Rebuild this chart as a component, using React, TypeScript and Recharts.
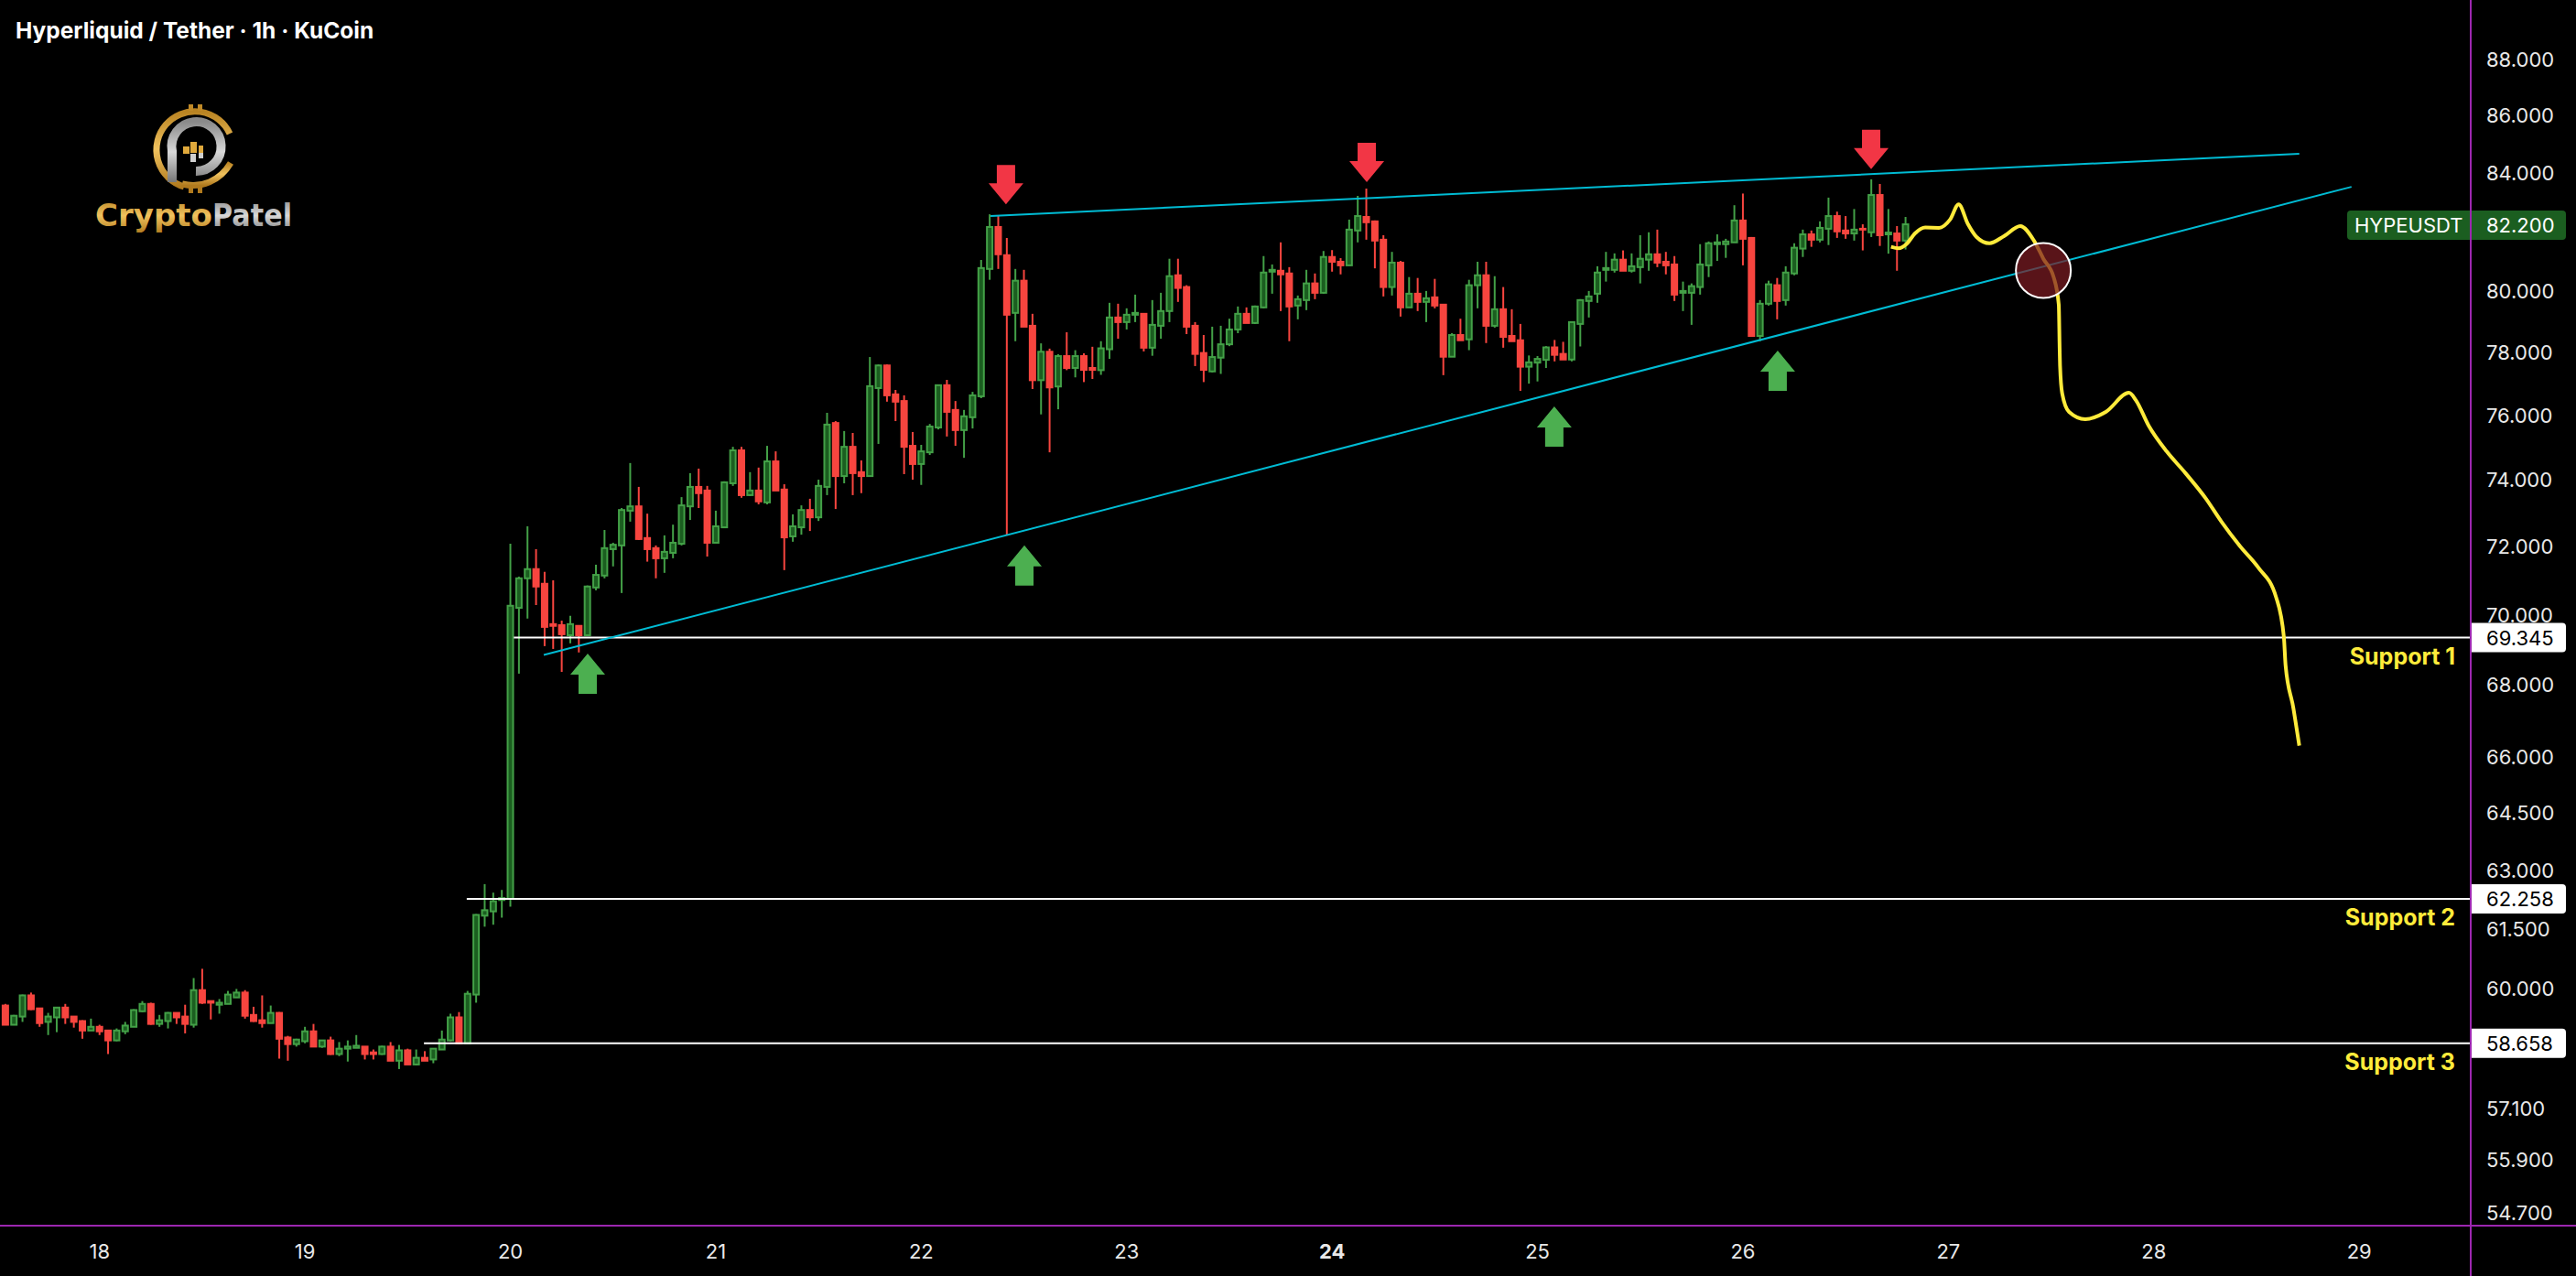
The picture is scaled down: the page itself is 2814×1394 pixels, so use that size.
import React from "react";
import { ComposedChart, Bar, Line, XAxis, YAxis, ReferenceLine, ReferenceDot } from "recharts";

const opens = [
59.58,59.11,59.31,59.83,59.51,59.18,59.29,59.53,59.31,59.2,
58.97,59.06,58.97,58.73,58.95,59.06,59.44,59.62,59.13,59.2,
59.4,59.31,59.11,59.96,59.69,59.6,59.62,59.78,59.9,59.35,
59.22,59.15,59.4,58.8,58.64,58.71,58.95,58.58,58.73,58.4,
58.53,58.55,58.58,58.44,58.4,58.58,58.24,58.49,58.15,58.31,
58.27,58.51,58.73,59.29,58.66,59.85,61.83,61.94,62.23,62.26,
70.2,71.06,71.33,70.9,69.73,69.7,69.41,69.68,69.41,70.79,
71.14,71.92,72.03,73.07,73.2,72.25,71.95,71.65,71.81,72.08,
73.2,73.79,73.68,72.11,72.57,73.9,74.91,73.54,73.68,73.32,
74.57,73.71,72.3,72.57,73.09,72.87,73.79,75.76,74.12,75.02,
74.24,74.12,76.86,77.58,76.66,76.45,75.05,74.49,74.85,75.62,
76.95,76.17,75.54,75.94,76.6,80.73,82.14,81.19,79.28,80.34,
78.86,77.11,78.02,76.91,77.88,77.5,77.88,77.5,77.43,78.1,
79.13,78.98,79.22,79.25,78.15,78.86,79.34,80.52,80.13,78.86,
77.98,77.39,77.83,78.26,78.74,79.25,78.95,79.46,80.64,80.67,
80.58,79.52,79.7,80.25,79.94,81.13,80.97,80.85,82.02,82.48,
82.33,81.71,80.13,80.94,79.46,79.91,79.64,79.79,79.55,77.86,
78.56,78.42,80.19,80.52,78.86,79.4,78.53,78.39,77.54,77.67,
77.76,78.16,77.95,77.77,78.92,79.67,79.91,80.7,80.7,81.04,
80.67,80.79,81.04,81.22,80.97,80.88,79.94,79.94,80.13,80.85,
81.56,81.56,81.62,82.36,81.77,78.53,79.58,80.19,79.7,80.58,
81.41,81.89,81.71,82.08,82.51,82.02,81.92,82.08,81.96,83.23,
81.89,81.92,81.68];

const highs = [
59.62,59.35,59.85,59.9,59.51,59.4,59.53,59.62,59.31,59.22,
59.26,59.11,58.97,59.02,59.18,59.49,59.69,59.65,59.35,59.42,
59.4,59.6,60.26,60.49,59.69,59.74,59.94,59.99,59.96,59.55,
59.83,59.58,59.42,58.84,58.77,59.06,59.13,58.73,58.82,58.69,
58.73,58.86,58.58,58.51,58.6,58.69,58.62,58.53,58.51,58.47,
58.53,58.97,59.38,59.42,59.94,61.87,62.64,62.42,62.49,72.08,
71.11,72.6,71.92,71.25,71.0,69.83,69.97,69.7,70.85,71.46,
72.49,72.11,73.15,74.52,73.79,72.98,72.03,72.33,72.65,73.48,
74.21,74.35,73.82,73.07,73.96,75.02,75.02,74.24,74.38,75.05,
74.88,73.87,72.96,73.23,73.43,74.01,76.08,75.82,75.51,75.45,
74.6,77.85,77.61,77.61,76.8,76.63,75.48,75.08,75.73,76.97,
77.12,76.45,76.17,76.74,81.03,82.57,82.54,81.77,80.73,80.7,
79.25,78.29,78.12,77.94,78.65,78.07,77.97,78.18,78.36,79.61,
79.58,79.43,79.88,79.25,79.7,79.94,81.07,81.07,80.19,78.98,
78.56,78.83,78.86,79.09,79.49,79.46,79.52,81.16,80.88,81.62,
80.79,79.85,80.7,80.58,81.33,81.36,81.09,82.39,83.2,83.45,
82.36,81.86,81.3,81.0,80.46,80.43,80.0,80.4,79.55,78.62,
79.09,80.37,80.97,80.97,80.49,80.13,79.4,78.92,77.9,77.88,
78.2,78.4,78.34,78.98,79.73,80.0,80.82,81.3,81.25,81.35,
81.25,81.86,81.96,82.05,81.3,81.16,80.31,80.25,81.56,81.65,
81.89,81.74,82.88,83.28,81.8,79.7,80.34,80.43,80.82,81.59,
82.05,82.02,82.33,83.14,82.66,82.51,82.75,82.23,83.77,83.61,
82.75,82.17,82.48];

const lows = [
59.11,59.11,59.18,59.47,59.06,58.86,58.93,59.13,59.04,58.77,
58.97,58.86,58.4,58.71,58.88,59.06,59.42,59.11,59.06,59.02,
59.13,58.9,59.04,59.62,59.24,59.38,59.62,59.78,59.26,59.18,
59.04,59.15,58.29,58.24,58.58,58.66,58.58,58.55,58.38,58.35,
58.22,58.55,58.27,58.27,58.38,58.24,58.04,58.15,58.13,58.24,
58.18,58.51,58.71,58.64,58.66,59.65,61.55,61.6,61.78,62.06,
68.32,69.89,70.28,69.1,69.02,68.37,69.18,68.92,69.41,70.71,
71.06,71.41,70.63,72.74,72.19,71.55,71.06,71.22,71.65,72.03,
72.79,73.15,71.7,72.11,72.57,73.82,73.46,73.51,73.26,73.26,
73.68,71.3,72.14,72.35,72.46,72.76,73.54,73.12,73.9,73.54,
73.6,74.1,75.11,76.43,75.82,74.18,74.01,73.85,74.77,75.56,
75.34,75.05,74.68,75.59,76.54,80.37,80.73,72.33,78.36,78.83,
76.83,76.03,74.85,76.19,77.43,77.2,77.05,77.15,77.28,77.79,
78.44,78.74,78.98,78.03,77.89,78.44,78.98,79.64,78.59,77.56,
77.05,77.36,77.31,78.2,78.62,78.95,78.92,79.43,79.91,79.34,
78.36,79.07,79.37,79.73,79.91,80.64,80.55,80.85,81.62,81.71,
80.75,79.82,79.85,79.16,79.46,79.34,78.98,79.43,77.27,77.86,
78.39,78.07,79.43,78.3,78.8,78.15,78.36,76.77,77.0,77.07,
77.5,77.71,77.77,77.71,78.19,79.13,79.61,80.31,80.61,80.67,
80.61,80.25,80.67,80.79,80.55,79.67,79.34,78.89,79.88,80.46,
81.0,81.1,81.62,80.85,78.5,78.36,79.52,79.07,79.52,80.52,
81.13,81.47,81.62,81.53,81.77,81.74,81.68,81.35,81.8,81.5,
81.24,80.67,81.38];

const closes = [
59.11,59.33,59.83,59.49,59.15,59.31,59.53,59.29,59.18,58.97,
59.06,58.95,58.73,58.97,59.09,59.47,59.62,59.13,59.22,59.4,
59.29,59.13,59.96,59.65,59.65,59.65,59.85,59.9,59.33,59.2,
59.15,59.4,58.77,58.64,58.75,58.95,58.58,58.73,58.4,58.53,
58.58,58.6,58.4,58.4,58.58,58.24,58.49,58.15,58.31,58.24,
58.53,58.75,59.29,58.66,59.87,61.85,61.97,62.2,62.28,70.26,
71.06,71.33,70.82,69.65,69.68,69.44,69.73,69.41,70.82,71.16,
71.95,72.05,73.09,73.2,72.22,71.92,71.65,71.84,72.11,73.23,
73.79,73.6,72.11,72.6,73.93,74.91,73.54,73.68,73.35,74.57,
73.68,72.27,72.6,73.09,72.87,73.82,75.71,74.12,75.02,74.21,
74.12,76.92,77.58,76.63,76.43,75.02,74.49,74.88,75.65,76.95,
76.11,75.54,75.97,76.63,80.76,82.14,81.22,79.22,80.34,78.83,
77.11,78.02,76.88,77.88,77.5,77.88,77.44,77.44,78.13,79.13,
78.98,79.22,79.28,78.15,78.89,79.34,80.49,80.1,78.83,77.95,
77.44,77.85,78.26,78.74,79.25,78.95,79.49,80.61,80.7,80.55,
79.49,79.73,80.25,79.94,81.13,80.97,80.85,82.05,82.51,82.3,
81.68,80.13,80.94,79.46,79.91,79.64,79.76,79.52,77.86,78.56,
78.39,80.19,80.52,78.86,79.4,78.5,78.36,77.54,77.68,77.79,
78.16,77.92,77.77,78.98,79.7,79.82,80.61,80.76,81.04,80.67,
80.82,81.07,81.22,80.94,80.85,79.88,80.0,80.16,80.88,81.59,
81.62,81.65,82.36,81.74,78.53,79.58,80.22,79.67,80.61,81.44,
81.89,81.71,82.11,82.51,81.99,81.92,82.05,82.05,83.23,81.86,
81.95,81.68,82.23];

const dayTicks = [11, 35, 59, 83, 107, 131, 155, 179, 203, 227, 251, 275];
const dayLabels = ["18", "19", "20", "21", "22", "23", "24", "25", "26", "27", "28", "29"];
const priceTicks = [88, 86, 84, 80, 78, 76, 74, 72, 70, 68, 66, 64.5, 63, 61.5, 60, 57.1, 55.9, 54.7];

const forecastIdx = [220.3,221.2,222.1,223.1,224.3,225.9,227.2,228.2,229.3,230.3,231.8,233.5,235.4,237.0,238.1,239.3,239.9,240.0,240.05,240.3,241.1,243.0,245.4,248.1,248.9,250.4,252.5,254.7,257.1,258.9,261.1,263.2,265.3,266.2,266.4,267.3,268.0];
const forecastPrice = [81.47,81.42,81.56,81.92,82.12,82.11,82.39,82.91,82.23,81.8,81.59,81.83,82.17,81.68,81.07,80.46,79.55,78.15,77.57,76.69,76.11,75.88,76.11,76.71,76.48,75.68,74.88,74.21,73.43,72.74,72.0,71.38,70.5,69.36,68.55,67.37,66.32];

const upperTrend = [{ x: 115.1, y: 82.51 }, { x: 268.0, y: 84.66 }];
const lowerTrend = [{ x: 62.9, y: 68.85 }, { x: 274.1, y: 83.51 }];

const supportPrices = [69.345, 62.258, 58.658];
const supportStarts = [59.4, 53.9, 48.9];
const supportNames = ["Support 1", "Support 2", "Support 3"];

const downArrowIdx = [116.9, 159.05, 217.98];
const downArrowPrice = [82.91, 83.67, 84.12];
const upArrowIdx = [68.03, 119.05, 180.96, 207.06];
const upArrowPrice = [68.89, 72.03, 76.28, 78.06];

const breakIdx = 238.1;
const breakPrice = 80.68;
const lastPrice = 82.2;

const IDX_MIN = -0.63;
const IDX_MAX = 288.03;
const FONT = "Inter, 'Noto Sans', sans-serif";

const candles = opens.map((o, i) => ({ idx: i, open: o, high: highs[i], low: lows[i], close: closes[i], range: [lows[i], highs[i]] }));
const forecast = forecastIdx.map((x, i) => ({ idx: x, price: forecastPrice[i] }));

function Candle(props: any) {
  const { x, y, width, height, payload } = props;
  if (!payload) return null;
  const { open, high, low, close } = payload;
  const span = Math.log(high / low) || 1;
  const at = (v: number) => y + (height * Math.log(high / v)) / span;
  const up = close >= open;
  const edge = up ? "#43a047" : "#f7453f";
  const fill = up ? "#1b5e20" : "#f7453f";
  const cx = x + width / 2;
  const top = at(Math.max(open, close));
  const bottom = at(Math.min(open, close));
  return (
    <g>
      <line x1={cx} x2={cx} y1={y} y2={y + height} stroke={edge} strokeWidth={2} />
      <rect x={cx - 3} y={top} width={6} height={Math.max(bottom - top, 0.5)} fill={fill} stroke={edge} strokeWidth={2} />
    </g>
  );
}

function DownArrow(props: any) {
  const { cx, cy } = props;
  return <path d={`M${cx - 10} ${cy - 43} H${cx + 10} V${cy - 23} H${cx + 19} L${cx} ${cy} L${cx - 19} ${cy - 23} H${cx - 10} Z`} fill="#f23645" />;
}

function UpArrow(props: any) {
  const { cx, cy } = props;
  return <path d={`M${cx - 10} ${cy + 44} H${cx + 10} V${cy + 23} H${cx + 19} L${cx} ${cy} L${cx - 19} ${cy + 23} H${cx - 10} Z`} fill="#4caf50" />;
}

function BreakCircle(props: any) {
  const { cx, cy } = props;
  return <circle cx={cx} cy={cy} r={30} fill="#7c1c22" fillOpacity={0.72} stroke="#ffffff" strokeWidth={2} />;
}

function PriceTag(props: any) {
  const { cx, cy, text } = props;
  return (
    <g>
      <path d={`M${cx + 1} ${cy - 16} H${cx + 100} a4 4 0 0 1 4 4 V${cy + 12} a4 4 0 0 1 -4 4 H${cx + 1} Z`} fill="#ffffff" />
      <text x={cx + 17} y={cy} dominantBaseline="central" fontFamily={FONT} fontSize={22} fill="#000000">{text}</text>
    </g>
  );
}

function SupportName(props: any) {
  const { cx, cy, text } = props;
  return (
    <text x={cx - 17} y={cy + 20} textAnchor="end" dominantBaseline="central" fontFamily={FONT} fontWeight={700} fontSize={25} fill="#ffeb3b">{text}</text>
  );
}

function LastTag(props: any) {
  const { cx, cy } = props;
  return (
    <g>
      <rect x={cx - 135} y={cy - 16} width={239} height={32} rx={4} fill="#1b5e20" />
      <text x={cx - 127} y={cy} dominantBaseline="central" fontFamily={FONT} fontSize={22} fill="#ffffff">HYPEUSDT</text>
      <text x={cx + 17} y={cy} dominantBaseline="central" fontFamily={FONT} fontSize={22} fill="#ffffff">{lastPrice.toFixed(3)}</text>
    </g>
  );
}

function PriceTick(props: any) {
  const { y, payload } = props;
  return (
    <text x={2716} y={y} dominantBaseline="central" fontFamily={FONT} fontSize={22} fill="#e8e8e8">{Number(payload.value).toFixed(3)}</text>
  );
}

function DayTick(props: any) {
  const { x, payload } = props;
  const label = dayLabels[dayTicks.indexOf(payload.value)];
  return (
    <text x={x} y={1367} textAnchor="middle" dominantBaseline="central" fontFamily={FONT} fontSize={22} fontWeight={label === "24" ? 700 : 400} fill="#e8e8e8">{label}</text>
  );
}

function Overlay() {
  return (
    <svg width={2814} height={1394} style={{ position: "absolute", left: 0, top: 0, pointerEvents: "none" }}>
      <defs>
        <linearGradient id="gold" x1="0" x2="0" y1="0" y2="1">
          <stop offset="0" stopColor="#b98322" />
          <stop offset="0.5" stopColor="#f0c25e" />
          <stop offset="1" stopColor="#b07a1e" />
        </linearGradient>
        <linearGradient id="silver" x1="0" x2="0" y1="0" y2="1">
          <stop offset="0" stopColor="#8a8a8a" />
          <stop offset="0.5" stopColor="#d8d8d8" />
          <stop offset="1" stopColor="#777777" />
        </linearGradient>
      </defs>
      <line x1={0} x2={2814} y1={1339} y2={1339} stroke="#9c27b0" strokeWidth={2} />
      <line x1={2699} x2={2699} y1={0} y2={1394} stroke="#9c27b0" strokeWidth={2} />
      <text x={17} y={33} dominantBaseline="central" fontFamily={FONT} fontWeight={700} fontSize={24.5} fill="#ffffff">Hyperliquid / Tether · 1h · KuCoin</text>
      <g>
        <path d="M 251 146 A 42 42 0 1 0 201 204" fill="none" stroke="url(#gold)" strokeWidth={7} />
        <path d="M 199 201 C 220 206 240 198 252 178" fill="none" stroke="url(#gold)" strokeWidth={7} />
        <rect x={206} y={114} width={5} height={7} fill="#c08a28" />
        <rect x={216} y={114} width={5} height={7} fill="#c08a28" />
        <rect x={206} y={204} width={5} height={7} fill="#b07a1e" />
        <rect x={216} y={204} width={5} height={7} fill="#b07a1e" />
        <path d="M 188 199 V 165 A 27 27 0 1 1 214 187" fill="none" stroke="url(#silver)" strokeWidth={10} />
        <rect x={200} y={160} width={7} height={8} fill="#e0a93c" />
        <rect x={208} y={155} width={7} height={12} fill="#e0a93c" />
        <rect x={217} y={159} width={5} height={8} fill="#e0a93c" />
        <rect x={208} y={168} width={6} height={9} fill="#cfcfcf" />
        <rect x={217} y={167} width={5} height={6} fill="#cfcfcf" />
        <text x={104} y={247} fontFamily="'DejaVu Sans', sans-serif" fontWeight={700} fontSize={33} textLength={128} lengthAdjust="spacingAndGlyphs" fill="url(#gold)">Crypto</text>
        <text x={232} y={247} fontFamily="'DejaVu Sans', sans-serif" fontWeight={700} fontSize={33} textLength={87} lengthAdjust="spacingAndGlyphs" fill="url(#silver)">Patel</text>
      </g>
    </svg>
  );
}

export default function App() {
  return (
    <div style={{ position: "absolute", left: 0, top: 0, width: 2814, height: 1394, background: "#000000", overflow: "hidden" }}>
      <ComposedChart width={2814} height={1394} data={candles} margin={{ top: 0, right: 0, bottom: 0, left: 0 }}>
        <XAxis
          dataKey="idx"
          type="number"
          domain={[IDX_MIN, IDX_MAX]}
          allowDataOverflow
          ticks={dayTicks}
          interval={0}
          height={55}
          tickLine={false}
          axisLine={false}
          tick={<DayTick />}
        />
        <YAxis
          orientation="right"
          type="number"
          scale="log"
          domain={[54.41, 90.2]}
          allowDataOverflow
          ticks={priceTicks}
          interval={0}
          width={115}
          tickLine={false}
          axisLine={false}
          tick={<PriceTick />}
        />
        <Bar dataKey="range" barSize={8} isAnimationActive={false} shape={<Candle />} />
        {supportPrices.map((p, i) => (
          <ReferenceLine key={`s${i}`} segment={[{ x: supportStarts[i], y: p }, { x: IDX_MAX, y: p }]} stroke="#ffffff" strokeWidth={2} ifOverflow="visible" />
        ))}
        <ReferenceLine segment={upperTrend} stroke="#00bcd4" strokeWidth={2} ifOverflow="visible" />
        <ReferenceLine segment={lowerTrend} stroke="#00bcd4" strokeWidth={2} ifOverflow="visible" />
        <ReferenceDot x={breakIdx} y={breakPrice} ifOverflow="visible" shape={<BreakCircle />} />
        {downArrowIdx.map((x, i) => (
          <ReferenceDot key={`d${i}`} x={x} y={downArrowPrice[i]} ifOverflow="visible" shape={<DownArrow />} />
        ))}
        {upArrowIdx.map((x, i) => (
          <ReferenceDot key={`u${i}`} x={x} y={upArrowPrice[i]} ifOverflow="visible" shape={<UpArrow />} />
        ))}
        {supportPrices.map((p, i) => (
          <ReferenceDot key={`t${i}`} x={IDX_MAX} y={p} ifOverflow="visible" shape={<PriceTag text={p.toFixed(3)} />} />
        ))}
        {supportPrices.map((p, i) => (
          <ReferenceDot key={`n${i}`} x={IDX_MAX} y={p} ifOverflow="visible" shape={<SupportName text={supportNames[i]} />} />
        ))}
        <ReferenceDot x={IDX_MAX} y={lastPrice} ifOverflow="visible" shape={<LastTag />} />
        <Line data={forecast} dataKey="price" type="monotone" stroke="#ffeb3b" strokeWidth={4} dot={false} activeDot={false} isAnimationActive={false} />
      </ComposedChart>
      <Overlay />
    </div>
  );
}
